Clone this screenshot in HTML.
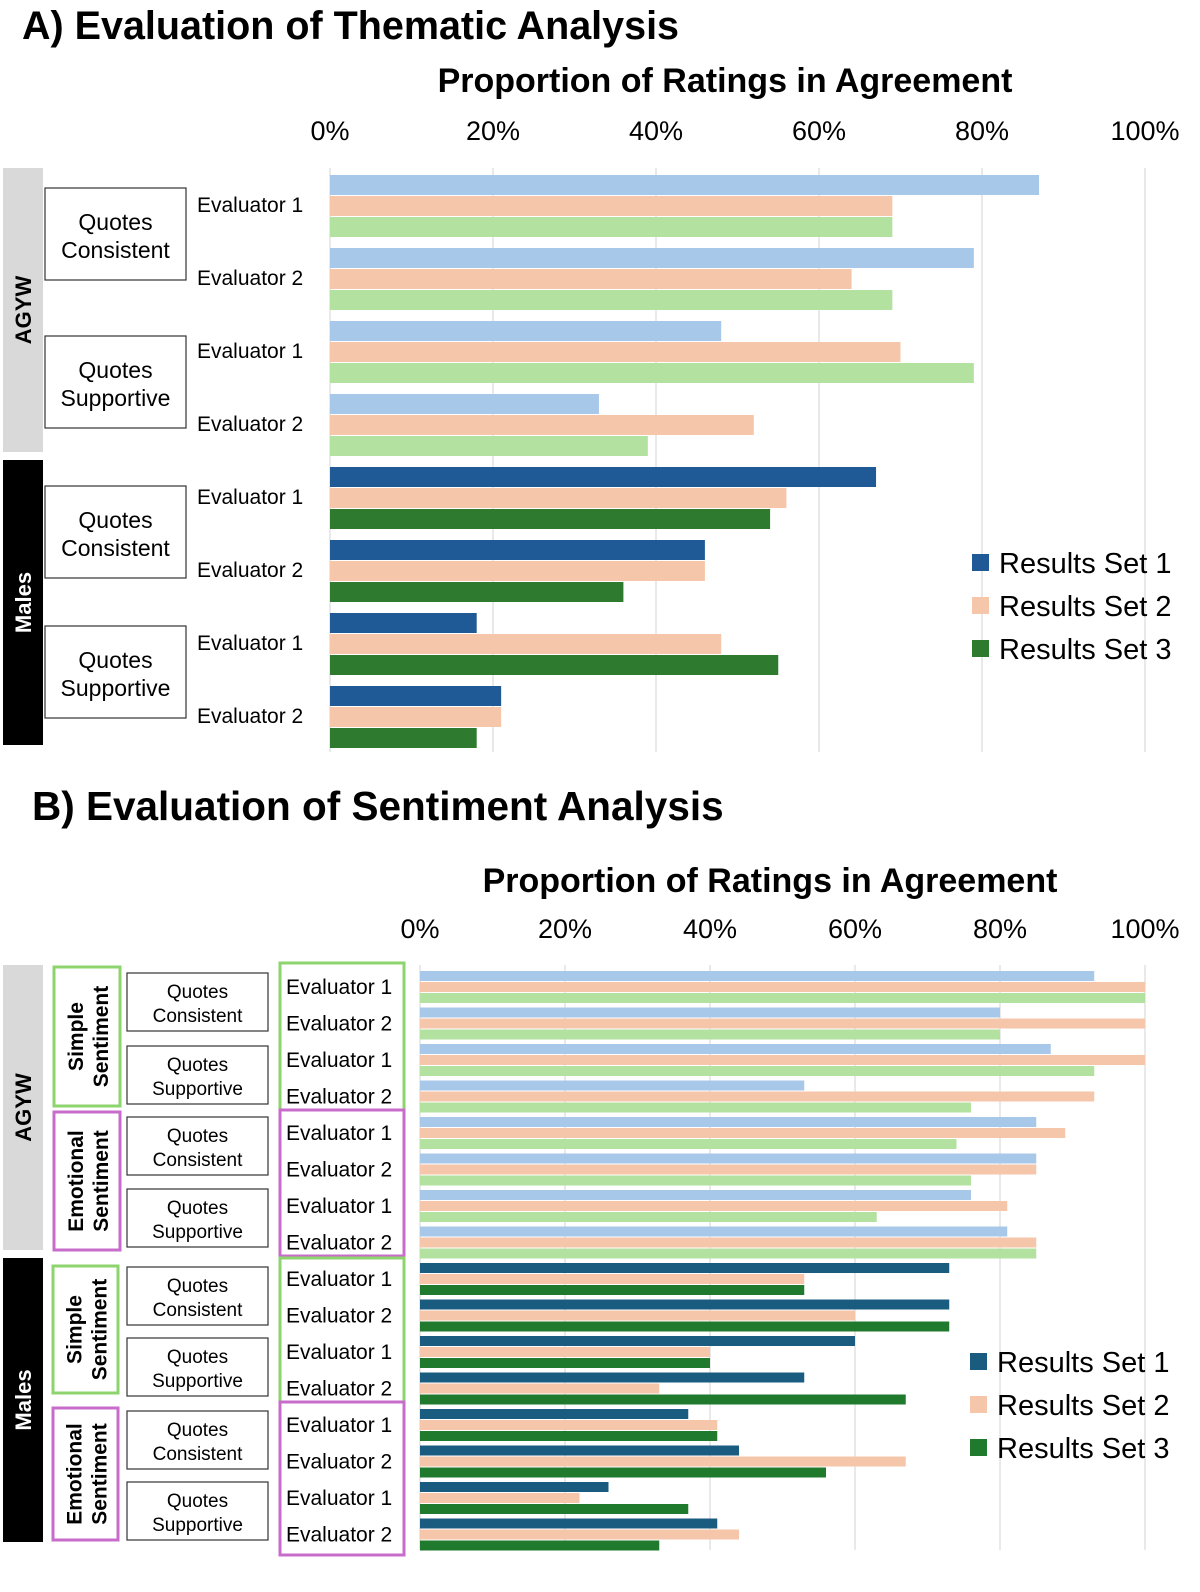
<!DOCTYPE html>
<html><head><meta charset="utf-8"><style>
body{margin:0;background:#fff;width:1200px;height:1587px;overflow:hidden;font-family:"Liberation Sans",sans-serif}
svg text{font-family:"Liberation Sans",sans-serif}
</style></head><body>
<svg id="svg" width="1200" height="1587" xmlns="http://www.w3.org/2000/svg">
<text x="22" y="39" font-size="39.5" font-weight="bold">A) Evaluation of Thematic Analysis</text>
<text x="725" y="92" font-size="34" font-weight="bold" text-anchor="middle">Proportion of Ratings in Agreement</text>
<text x="32" y="820" font-size="40.5" font-weight="bold">B) Evaluation of Sentiment Analysis</text>
<text x="770" y="892" font-size="34" font-weight="bold" text-anchor="middle">Proportion of Ratings in Agreement</text>
<g id="ga"></g><g id="gb"></g>
</svg>
<script>
const ticks=[0,20,40,60,80,100];
const tickLabels=["0%","20%","40%","60%","80%","100%"];
const seriesNames=["Results Set 1","Results Set 2","Results Set 3"];
const aSet1=[87,79,48,33,67,46,18,21];
const aSet2=[69,64,70,52,56,46,48,21];
const aSet3=[69,69,79,39,54,36,55,18];
const bSet1=[93,80,87,53,85,85,76,81,73,73,60,53,37,44,26,41];
const bSet2=[100,100,100,93,89,85,81,85,53,60,40,33,41,67,22,44];
const bSet3=[100,80,93,76,74,76,63,85,53,73,40,67,41,56,37,33];
const evalLabels=["Evaluator 1","Evaluator 2"];
const NS="http://www.w3.org/2000/svg";
function mk(p,tag,at,txt){const e=document.createElementNS(NS,tag);for(const k in at)e.setAttribute(k,at[k]);if(txt!==undefined)e.textContent=txt;p.appendChild(e);return e;}
const light=["#a8c8ea","#f5c6a9","#b3e2a0"];
const darkA=["#1f5a96","#f5c6a9","#2e7b30"];
const darkB=["#1a5c80","#f5c6a9","#1f7a2e"];

function chart(g,x0,x1,y0,y1,tickY,top,step,bh,sets,n,darkC,legY){
  const sx=v=>x0+(x1-x0)*v/100;
  ticks.forEach((t,i)=>{
    const l=mk(g,'line',{x1:sx(t),x2:sx(t),y1:y0,y2:y1,stroke:'#e2e2e2','stroke-width':1.5});
    
    
    const tx=mk(g,'text',{x:sx(t),y:tickY,'font-size':27,'text-anchor':'middle'},tickLabels[i]);
    
    
  });
  for(let i=0;i<n;i++){
    const cols=i<n/2?light:darkC;
    for(let s=0;s<3;s++){
      const r=mk(g,'rect',{x:x0,y:top+i*step+s*bh,width:sx(sets[s][i])-x0,height:bh-1,fill:cols[s]});
      
      
    }
  }
  for(let s=0;s<3;s++){
    const r=mk(g,'rect',{x:legX(g),y:legY+s*43-9,width:17,height:17,fill:darkC[s]});
    
    
    const t=mk(g,'text',{x:legX(g)+27,y:legY+s*43+10,'font-size':29},seriesNames[s]);
    
    
  }
}
function legX(g){return g.id==='ga'?972:970;}
const ga=document.getElementById('ga'),gb=document.getElementById('gb');
chart(ga,330,1145,168,752,140,175,73,21,[aSet1,aSet2,aSet3],8,darkA,563);
chart(gb,420,1145,965,1550,938,971,36.5,11,[bSet1,bSet2,bSet3],16,darkB,1362);

function band(g,x,y,w,h,fill,tc,label){
  const r=mk(g,'rect',{x:x,y:y,width:w,height:h,fill:fill});
  
  
  const cx=x+w/2,cy=y+h/2;
  const t=mk(g,'text',{x:cx,y:cy+8,'font-size':22,'font-weight':'bold',fill:tc,'text-anchor':'middle',transform:`rotate(-90 ${cx} ${cy})`},label);
  
  
}
function box(g,x,y,w,h,l1,l2,fs,stroke,sw,rot,bold){
  const r=mk(g,'rect',{x:x,y:y,width:w,height:h,fill:'#fff',stroke:stroke,'stroke-width':sw});
  
  
  const cx=x+w/2,cy=y+h/2;
  const at={'font-size':fs,'text-anchor':'middle'};
  if(bold)at['font-weight']='bold';
  if(rot){
    const t1=mk(g,'text',Object.assign({x:cx,y:cy-4,transform:`rotate(-90 ${cx} ${cy})`},at),l1);
    const t2=mk(g,'text',Object.assign({x:cx,y:cy+fs,transform:`rotate(-90 ${cx} ${cy})`},at),l2);
    
    
  }else{
    const t1=mk(g,'text',Object.assign({x:cx,y:cy-4},at),l1);
    const t2=mk(g,'text',Object.assign({x:cx,y:cy+fs+1},at),l2);
    
    
  }
}
band(ga,3,168,40,284,'#d9d9d9','#000','AGYW');
band(ga,3,460,40,285,'#000','#fff','Males');
[[188,'Consistent'],[336,'Supportive'],[486,'Consistent'],[626,'Supportive']].forEach(([y,w])=>box(ga,45,y,141,92,'Quotes',w,23,'#333',1.2,false,false));
for(let i=0;i<8;i++){
  const t=mk(ga,'text',{x:197,y:212+i*73,'font-size':21},evalLabels[i%2]);
  
  
}
band(gb,3,965,40,285,'#d9d9d9','#000','AGYW');
band(gb,3,1258,40,284,'#000','#fff','Males');
box(gb,54,967,66,139,'Simple','Sentiment',21,'#8ed46e',3,true,true);
box(gb,54,1112,66,138,'Emotional','Sentiment',21,'#c86ccb',3,true,true);
box(gb,53,1266,65,127,'Simple','Sentiment',21,'#8ed46e',3,true,true);
box(gb,53,1408,65,132,'Emotional','Sentiment',21,'#c86ccb',3,true,true);
[973,1046,1117,1189,1267,1338,1411,1482].forEach((y,i)=>box(gb,127,y,141,58,'Quotes',i%2?'Supportive':'Consistent',19,'#333',1.2,false,false));
[[963,1110,'#8ed46e'],[1110,1256,'#c86ccb'],[1258,1402,'#8ed46e'],[1402,1555,'#c86ccb']].forEach(([a,b,c])=>{
  const r=mk(gb,'rect',{x:280,y:a,width:124,height:b-a,fill:'none',stroke:c,'stroke-width':3});
  
  
});
for(let i=0;i<16;i++){
  const t=mk(gb,'text',{x:286,y:994+i*36.5,'font-size':21},evalLabels[i%2]);
  
  
}
</script>
</body></html>
